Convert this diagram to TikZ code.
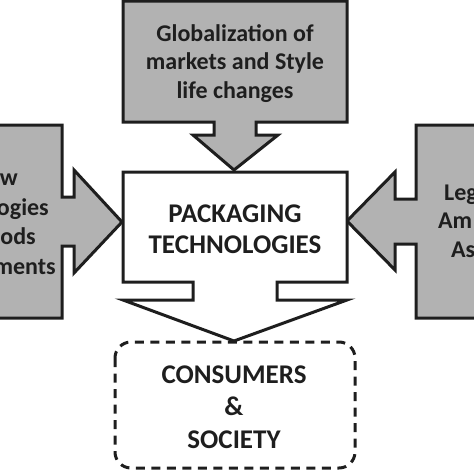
\documentclass[tikz,border=0pt]{standalone}
\usepackage{fontspec}
\setmainfont{Carlito}
\definecolor{boxgray}{HTML}{B2B2B2}
\definecolor{ink}{HTML}{1E1E1E}
\begin{document}
\begin{tikzpicture}[x=1pt,y=-1pt,
  shapeline/.style={draw=ink,line width=3pt,line join=miter},
  grayshape/.style={shapeline,fill=boxgray},
  whiteshape/.style={shapeline,fill=white},
  dashbox/.style={draw=ink,line width=3pt,dash pattern=on 9pt off 6.5pt,rounded corners=16pt},
  smalltxt/.style={text=ink,font=\fontsize{24}{28.5}\selectfont\bfseries,inner sep=0pt},
  bigtxt/.style={text=ink,font=\fontsize{27}{32}\selectfont\bfseries,inner sep=0pt}]
\useasboundingbox (0,0) rectangle (474,474);
\clip (0,0) rectangle (474,474);
% top callout arrow
\draw[grayshape] (123,1) -- (347,1) -- (347,122) -- (256,122) -- (256,135) -- (278,135)
  -- (234,170) -- (193,135) -- (214,135) -- (214,122) -- (123,122) -- cycle;
% left callout arrow
\draw[grayshape] (-10,125) -- (62,125) -- (62,197) -- (74,197) -- (74,170) -- (122,222)
  -- (74,273) -- (74,246) -- (62,246) -- (62,318) -- (-10,318) -- cycle;
% right callout arrow
\draw[grayshape] (484,125) -- (416,125) -- (416,199) -- (395,199) -- (395,172) -- (347,221)
  -- (395,270) -- (395,244) -- (416,244) -- (416,318) -- (484,318) -- cycle;
% center callout arrow
\draw[whiteshape] (123,172) -- (347,172) -- (347,282) -- (277,282) -- (277,300) -- (347,300)
  -- (234,341) -- (123,300) -- (193,300) -- (193,282) -- (123,282) -- cycle;
% dashed box
\draw[dashbox] (115,342) rectangle (355,468);
% texts
\node[smalltxt,anchor=base] (g1) at (235,41) {Globalization of};
\node[smalltxt,anchor=base] (g2) at (235,69.5) {markets and Style};
\node[smalltxt,anchor=base] (g3) at (235,98) {life changes};
\node[smalltxt,anchor=base east] (l1) at (18,185) {w};
\node[smalltxt,anchor=base east] (l2) at (49,215) {ogies};
\node[smalltxt,anchor=base east] (l3) at (36,244) {ods};
\node[smalltxt,anchor=base east] (l4) at (56,274) {ments};
\node[smalltxt,anchor=base west] (r1) at (444,200) {Leg};
\node[smalltxt,anchor=base west] (r2) at (438,228) {Am};
\node[smalltxt,anchor=base west] (r3) at (451,257) {As};
\node[bigtxt,anchor=base] (p1) at (235,222) {PACKAGING};
\node[bigtxt,anchor=base] (p2) at (235,253) {TECHNOLOGIES};
\node[bigtxt,anchor=base] (c1) at (234,383) {CONSUMERS};
\node[bigtxt,anchor=base] (c2) at (234,415) {\&};
\node[bigtxt,anchor=base] (c3) at (234,448) {SOCIETY};
\end{tikzpicture}
\end{document}
